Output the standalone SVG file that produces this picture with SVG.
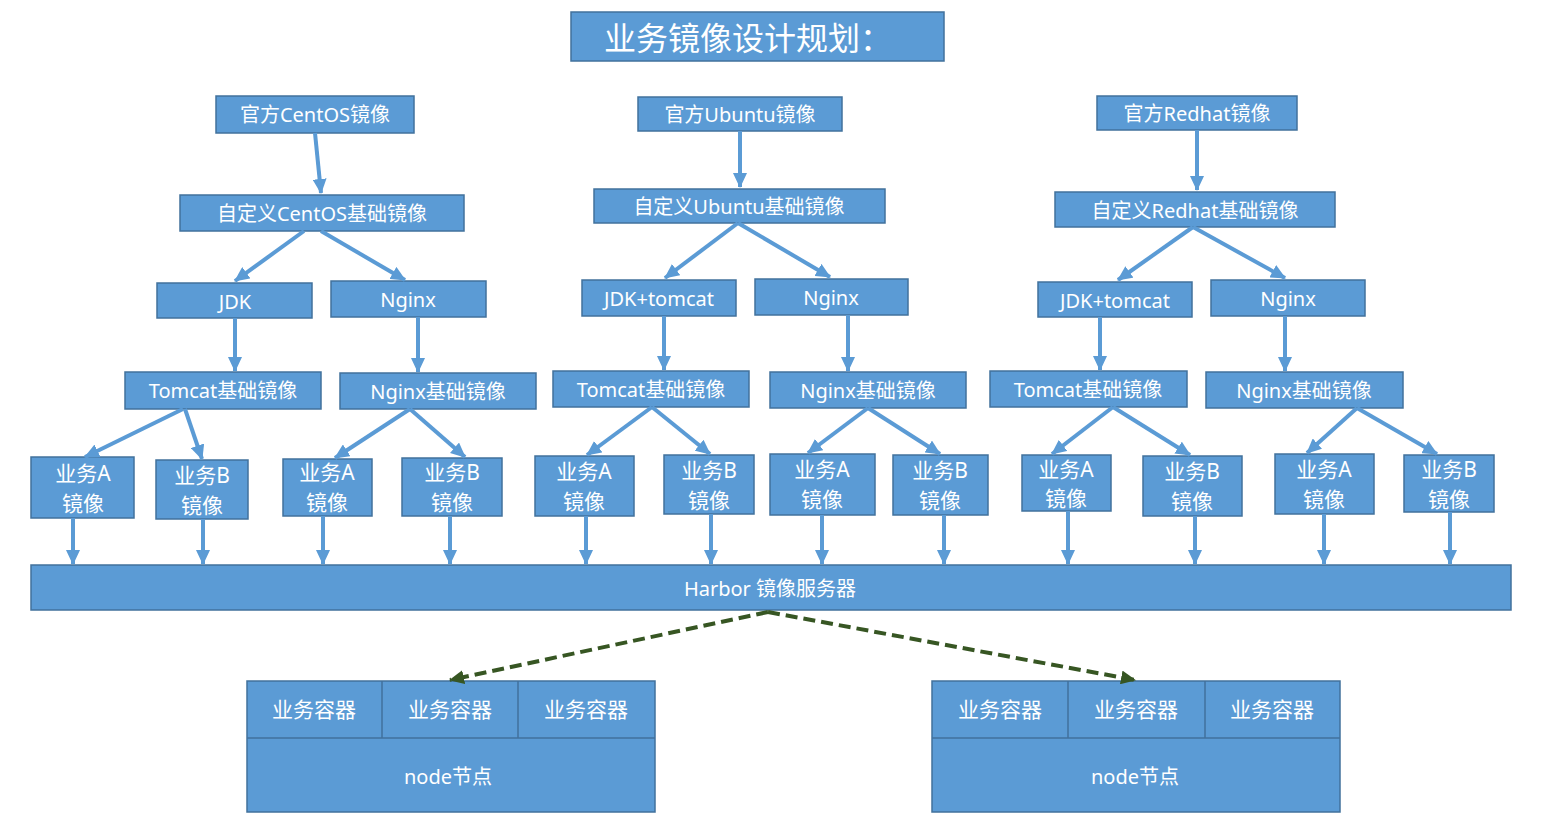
<svg xmlns="http://www.w3.org/2000/svg" width="1545" height="823" viewBox="0 0 1545 823">
<style>
.b{fill:#5b9bd5;stroke:#41719c;stroke-width:1.5}
text{fill:#fff;font-family:"Noto Sans","Noto Sans CJK SC",sans-serif;font-size:20px;text-anchor:middle;dominant-baseline:central}
.s{font-size:21px}
.c line{stroke:#5b9bd5;stroke-width:4;marker-end:url(#a)}
.c .d{stroke:#375623;stroke-dasharray:12 6;marker-end:url(#g)}
</style>
<defs>
<marker id="a" markerUnits="userSpaceOnUse" markerWidth="16" markerHeight="14" refX="14" refY="7" orient="auto"><path d="M0,0L15,7L0,14z" fill="#5b9bd5"/></marker>
<marker id="g" markerUnits="userSpaceOnUse" markerWidth="16" markerHeight="14" refX="14" refY="7" orient="auto"><path d="M0,0L15,7L0,14z" fill="#375623"/></marker>
</defs>
<rect width="1545" height="823" fill="#fff"/>
<g id="title"><rect class="b" x="571" y="12" width="373" height="49"/><text x="748" y="37" style="font-size:32px">业务镜像设计规划：</text></g>
<g id="centos"><rect class="b" x="216" y="96" width="198" height="37"/><text x="315" y="114">官方CentOS镜像</text></g>
<g id="ubuntu"><rect class="b" x="638" y="97" width="204" height="34"/><text x="740" y="114">官方Ubuntu镜像</text></g>
<g id="redhat"><rect class="b" x="1097" y="96" width="200" height="34"/><text x="1197" y="113">官方Redhat镜像</text></g>
<g id="c-centos"><rect class="b" x="180" y="195" width="284" height="36"/><text x="322" y="213">自定义CentOS基础镜像</text></g>
<g id="c-ubuntu"><rect class="b" x="594" y="189" width="291" height="34"/><text x="739" y="206">自定义Ubuntu基础镜像</text></g>
<g id="c-redhat"><rect class="b" x="1055" y="192" width="280" height="35"/><text x="1195" y="210">自定义Redhat基础镜像</text></g>
<g id="jdk1"><rect class="b" x="157" y="283" width="155" height="35"/><text x="235" y="301">JDK</text></g>
<g id="ngx1"><rect class="b" x="331" y="281" width="155" height="36"/><text x="408" y="299">Nginx</text></g>
<g id="jdk2"><rect class="b" x="582" y="280" width="154" height="36"/><text x="659" y="298">JDK+tomcat</text></g>
<g id="ngx2"><rect class="b" x="755" y="279" width="153" height="36"/><text x="831" y="297">Nginx</text></g>
<g id="jdk3"><rect class="b" x="1038" y="282" width="154" height="35"/><text x="1115" y="300">JDK+tomcat</text></g>
<g id="ngx3"><rect class="b" x="1211" y="280" width="154" height="36"/><text x="1288" y="298">Nginx</text></g>
<g id="tb1"><rect class="b" x="125" y="372" width="196" height="37"/><text x="223" y="390">Tomcat基础镜像</text></g>
<g id="nb1"><rect class="b" x="340" y="373" width="196" height="36"/><text x="438" y="391">Nginx基础镜像</text></g>
<g id="tb2"><rect class="b" x="553" y="371" width="196" height="36"/><text x="651" y="389">Tomcat基础镜像</text></g>
<g id="nb2"><rect class="b" x="770" y="372" width="196" height="36"/><text x="868" y="390">Nginx基础镜像</text></g>
<g id="tb3"><rect class="b" x="990" y="371" width="197" height="36"/><text x="1088" y="389">Tomcat基础镜像</text></g>
<g id="nb3"><rect class="b" x="1206" y="372" width="197" height="36"/><text x="1304" y="390">Nginx基础镜像</text></g>
<g id="b1"><rect class="b" x="31" y="457" width="103" height="61"/><text class="s" x="83" y="473">业务A</text><text class="s" x="83" y="503">镜像</text></g>
<g id="b2"><rect class="b" x="156" y="460" width="92" height="59"/><text class="s" x="202" y="475">业务B</text><text class="s" x="202" y="505">镜像</text></g>
<g id="b3"><rect class="b" x="283" y="459" width="89" height="57"/><text class="s" x="327" y="472">业务A</text><text class="s" x="327" y="502">镜像</text></g>
<g id="b4"><rect class="b" x="402" y="458" width="100" height="58"/><text class="s" x="452" y="472">业务B</text><text class="s" x="452" y="502">镜像</text></g>
<g id="b5"><rect class="b" x="535" y="456" width="99" height="60"/><text class="s" x="584" y="471">业务A</text><text class="s" x="584" y="501">镜像</text></g>
<g id="b6"><rect class="b" x="664" y="455" width="90" height="59"/><text class="s" x="709" y="470">业务B</text><text class="s" x="709" y="500">镜像</text></g>
<g id="b7"><rect class="b" x="770" y="454" width="105" height="61"/><text class="s" x="822" y="469">业务A</text><text class="s" x="822" y="499">镜像</text></g>
<g id="b8"><rect class="b" x="893" y="455" width="95" height="60"/><text class="s" x="940" y="470">业务B</text><text class="s" x="940" y="500">镜像</text></g>
<g id="b9"><rect class="b" x="1022" y="455" width="89" height="56"/><text class="s" x="1066" y="469">业务A</text><text class="s" x="1066" y="498">镜像</text></g>
<g id="b10"><rect class="b" x="1143" y="456" width="99" height="60"/><text class="s" x="1192" y="471">业务B</text><text class="s" x="1192" y="501">镜像</text></g>
<g id="b11"><rect class="b" x="1275" y="454" width="99" height="60"/><text class="s" x="1324" y="469">业务A</text><text class="s" x="1324" y="499">镜像</text></g>
<g id="b12"><rect class="b" x="1404" y="455" width="90" height="57"/><text class="s" x="1449" y="469">业务B</text><text class="s" x="1449" y="499">镜像</text></g>
<g id="harbor"><rect class="b" x="31" y="565" width="1480" height="45"/><text x="770" y="588">Harbor 镜像服务器</text></g>
<g id="node1"><rect class="b" x="247" y="681" width="408" height="131"/><line x1="247" y1="738" x2="655" y2="738" stroke="#41719c" stroke-width="1.5"/><line x1="382" y1="681" x2="382" y2="738" stroke="#41719c" stroke-width="1.5"/><line x1="518" y1="681" x2="518" y2="738" stroke="#41719c" stroke-width="1.5"/><text class="s" x="314" y="709">业务容器</text><text class="s" x="450" y="709">业务容器</text><text class="s" x="586" y="709">业务容器</text><text x="448" y="776">node节点</text></g>
<g id="node2"><rect class="b" x="932" y="681" width="408" height="131"/><line x1="932" y1="738" x2="1340" y2="738" stroke="#41719c" stroke-width="1.5"/><line x1="1068" y1="681" x2="1068" y2="738" stroke="#41719c" stroke-width="1.5"/><line x1="1205" y1="681" x2="1205" y2="738" stroke="#41719c" stroke-width="1.5"/><text class="s" x="1000" y="709">业务容器</text><text class="s" x="1136" y="709">业务容器</text><text class="s" x="1272" y="709">业务容器</text><text x="1135" y="776">node节点</text></g>
<g id="connectors" class="c">
<line x1="315" y1="133" x2="321" y2="193"/><line x1="740" y1="131" x2="740" y2="187"/><line x1="1197" y1="130" x2="1197" y2="190"/>
<line x1="304" y1="231" x2="235" y2="281"/><line x1="321" y1="231" x2="405" y2="280"/>
<line x1="738" y1="223" x2="665" y2="278"/><line x1="738" y1="223" x2="830" y2="277"/>
<line x1="1193" y1="227" x2="1118" y2="280"/><line x1="1193" y1="227" x2="1285" y2="278"/>
<line x1="235" y1="318" x2="235" y2="371"/><line x1="418" y1="317" x2="418" y2="372"/><line x1="664" y1="316" x2="664" y2="370"/><line x1="848" y1="315" x2="848" y2="371"/><line x1="1100" y1="317" x2="1100" y2="370"/><line x1="1285" y1="316" x2="1285" y2="371"/>
<line x1="183" y1="409" x2="85" y2="457"/><line x1="185" y1="409" x2="202" y2="459"/>
<line x1="410" y1="409" x2="335" y2="458"/><line x1="410" y1="409" x2="465" y2="457"/>
<line x1="652" y1="407" x2="587" y2="455"/><line x1="652" y1="407" x2="710" y2="454"/>
<line x1="868" y1="408" x2="808" y2="453"/><line x1="868" y1="408" x2="940" y2="454"/>
<line x1="1113" y1="407" x2="1052" y2="454"/><line x1="1113" y1="407" x2="1190" y2="455"/>
<line x1="1357" y1="408" x2="1307" y2="453"/><line x1="1357" y1="408" x2="1437" y2="454"/>
<line x1="73" y1="518" x2="73" y2="564"/><line x1="203" y1="519" x2="203" y2="564"/><line x1="323" y1="516" x2="323" y2="564"/><line x1="450" y1="516" x2="450" y2="564"/><line x1="586" y1="516" x2="586" y2="564"/><line x1="711" y1="514" x2="711" y2="564"/><line x1="822" y1="515" x2="822" y2="564"/><line x1="944" y1="515" x2="944" y2="564"/><line x1="1068" y1="511" x2="1068" y2="564"/><line x1="1195" y1="516" x2="1195" y2="564"/><line x1="1324" y1="514" x2="1324" y2="564"/><line x1="1450" y1="512" x2="1450" y2="564"/>
<line class="d" x1="768" y1="612" x2="450" y2="680"/><line class="d" x1="768" y1="612" x2="1135" y2="680"/>
</g>
</svg>
